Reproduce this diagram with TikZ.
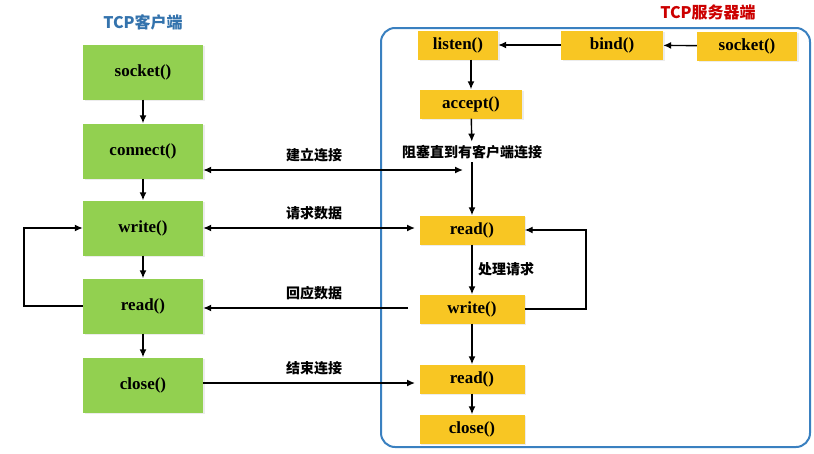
\documentclass[tikz,border=0pt]{standalone}
\usepackage{fontspec}
\setmainfont{Liberation Serif}
\newfontfamily\cjk{Noto Sans CJK SC}
\usetikzlibrary{shadows,arrows.meta}
\definecolor{grn}{HTML}{92D050}
\definecolor{yel}{HTML}{F8C623}
\definecolor{bluel}{HTML}{3A80C0}
\begin{document}
\begin{tikzpicture}[x=1pt,y=-1pt,
  cb/.style={fill=grn,draw=none,minimum width=120pt,minimum height=55pt,font=\bfseries\fontsize{17}{17}\selectfont,drop shadow={opacity=0.15,shadow xshift=1.5pt,shadow yshift=-1.5pt}},
  sb/.style={fill=yel,draw=none,minimum height=29pt,font=\bfseries\fontsize{17}{17}\selectfont,drop shadow={opacity=0.15,shadow xshift=1.5pt,shadow yshift=-1.5pt}},
  lab/.style={font=\cjk\bfseries\fontsize{14}{14}\selectfont},
  ar/.style={-{Latex[length=8pt,width=7pt]},line width=1.4pt},
  dar/.style={{Latex[length=8pt,width=7pt]}-{Latex[length=8pt,width=7pt]},line width=1.4pt}]
\useasboundingbox (0,0) rectangle (814,453);
\fill[white] (0,0) rectangle (814,453);
\draw[bluel,line width=2pt,rounded corners=14pt] (381,28) rectangle (810,447);
\node[text=bluel!90!black,font=\cjk\bfseries\fontsize{16}{16}\selectfont] (ct) at (143,22) {TCP客户端};
\node[text=red!80!black,font=\cjk\bfseries\fontsize{16}{16}\selectfont] (st) at (708,12) {TCP服务器端};
% client
\node[cb] (cs) at (143,72) {socket()};
\node[cb] (cc) at (143,151) {connect()};
\node[cb] (cw) at (143,228) {write()};
\node[cb] (cr) at (143,306) {read()};
\node[cb] (cx) at (143,385) {close()};
\draw[ar] (cs) -- (cc);
\draw[ar] (cc) -- (cw);
\draw[ar] (cw) -- (cr);
\draw[ar] (cr) -- (cx);
\coordinate (cl) at (24,306);
\draw[ar] (cr.west) -- (cl) |- (cw.west);
% server
\node[sb,minimum width=80pt] (sl) at (458,45) {listen()};
\node[sb,minimum width=102pt] (sbd) at (612,45) {bind()};
\node[sb,minimum width=100pt] (ss) at (747,46) {socket()};
\node[sb,minimum width=102pt] (sa) at (471,104) {accept()};
\node[lab] (blk) at (472,152) {阻塞直到有客户端连接};
\node[sb,minimum width=105pt] (sr) at (472,230) {read()};
\node[sb,minimum width=105pt] (sw) at (472,309) {write()};
\node[sb,minimum width=105pt] (sr2) at (472,379) {read()};
\node[sb,minimum width=105pt] (sx) at (472,429) {close()};
\draw[ar] (ss) -- (sbd);
\draw[ar] (sbd) -- (sl);
\draw[ar] (sl.south -| sa) -- (sa);
\draw[ar] (sa) -- (blk);
\coordinate (jn) at (463,170);
\draw[ar] (blk.south -| sr) -- (sr);
\draw[dar] (cc.east |- jn) -- (jn);
\node[lab] (l1) at (314,155) {建立连接};
\draw[ar] (sr) -- node[lab,right=2pt] {处理请求} (sw);
\coordinate (sl2) at (586,309);
\draw[ar] (sw.east) -- (sl2) |- (sr.east);
\draw[ar] (sw) -- (sr2);
\draw[ar] (sr2) -- (sx);
\coordinate (p1) at (415,228);
\draw[dar] (cw.east) -- (p1);
\node[lab] at (314,213) {请求数据};
\coordinate (p2) at (408,308);
\draw[ar] (p2) -- (cr.east |- p2);
\node[lab] at (314,293) {回应数据};
\coordinate (p3) at (415,383);
\draw[ar] (cx.east |- p3) -- (p3);
\node[lab] at (314,368) {结束连接};
\end{tikzpicture}
\end{document}
